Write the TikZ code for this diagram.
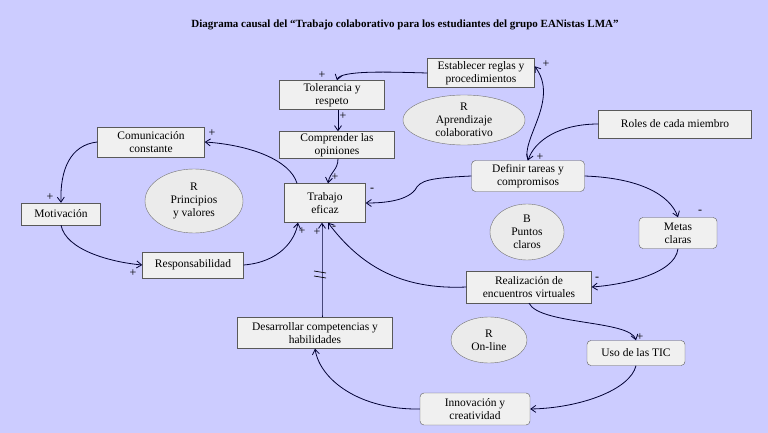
\documentclass[tikz,border=0pt]{standalone}
\usepackage{fontspec}
\setmainfont{Liberation Serif}
\usetikzlibrary{arrows.meta,shapes.geometric}
\begin{document}
\begin{tikzpicture}[x=1pt,y=-1pt,
 bx/.style={draw=black!65,fill=black!6,font=\fontsize{11.5}{13}\selectfont,align=center,inner sep=0pt,minimum height=29pt},
 rbx/.style={bx,rounded corners=4pt},
 el/.style={draw=black!55,fill=black!8,ellipse,font=\fontsize{11.5}{13}\selectfont,align=center,inner sep=0pt},
 ar/.style={draw=black!80!blue,line width=0.8pt,-{Straight Barb[length=5pt,width=7pt]}},
 sg/.style={font=\fontsize{12}{12}\selectfont,inner sep=0pt}]
\useasboundingbox[fill={rgb,255:red,204;green,204;blue,255}] (0,0) rectangle (768,433);
\node[font=\bfseries\fontsize{11}{13}\selectfont] (title) at (405,25) {Diagrama causal del “Trabajo colaborativo para los estudiantes del grupo EANistas LMA”};
\node[bx,minimum width=107pt] (est) at (481,73) {Establecer reglas y\\procedimientos};
\node[bx,minimum width=105pt] (tol) at (332,95) {Tolerancia y\\respeto};
\node[bx,minimum width=115pt,minimum height=27pt] (com) at (337,145) {Comprender las\\opiniones};
\node[bx,minimum width=107pt,minimum height=30pt] (cc) at (151,142) {Comunicación\\constante};
\node[bx,minimum width=79pt,minimum height=22pt] (mot) at (61,214) {Motivación};
\node[bx,minimum width=101pt,minimum height=26pt] (res) at (193,265) {Responsabilidad};
\node[bx,minimum width=81pt,minimum height=39pt] (tra) at (325,203) {Trabajo\\eficaz};
\node[bx,minimum width=153pt,minimum height=28pt] (rol) at (675,124) {Roles de cada miembro};
\node[rbx,minimum width=113pt,minimum height=31pt] (def) at (528,176) {Definir tareas y\\compromisos};
\node[rbx,minimum width=78pt,minimum height=31pt] (met) at (678,233) {Metas\\claras};
\node[bx,minimum width=125pt,minimum height=32pt] (rea) at (529,287) {Realización de\\encuentros virtuales};
\node[rbx,minimum width=98pt,minimum height=25pt] (uso) at (636,353) {Uso de las TIC};
\node[rbx,minimum width=110pt,minimum height=32pt] (inn) at (475,409) {Innovación y\\creatividad};
\node[bx,minimum width=155pt,minimum height=31pt] (des) at (315,333) {Desarrollar competencias y\\habilidades};
\node[el,minimum width=98pt,minimum height=64pt] (e1) at (194,201) {R\\Principios\\y valores};
\node[el,minimum width=122pt,minimum height=50pt] (e2) at (464,120) {R\\Aprendizaje\\colaborativo};
\node[el,minimum width=74pt,minimum height=56pt] (e3) at (527,232) {B\\Puntos\\claros};
\node[el,minimum width=76pt,minimum height=46pt] (e4) at (489,340) {R\\On-line};
% arrows
\draw[ar] (est.west) .. controls (390,72) and (340,70) .. ([xshift=5pt]tol.north);
\draw[ar] ([xshift=6pt]tol.south) -- ([xshift=1pt]com.north);
\draw[ar] ([xshift=1pt]com.south) .. controls (338,170) and (330,172) .. ([xshift=3pt]tra.north);
\draw[ar] ([xshift=-28pt]tra.north) .. controls (290,160) and (250,145) .. (cc.east);
\draw[ar] (cc.west) .. controls (70,145) and (60,170) .. (mot.north);
\draw[ar] (mot.south) .. controls (66,250) and (110,262) .. (res.west);
\draw[ar] (res.east) .. controls (280,262) and (295,240) .. ([xshift=-27pt]tra.south);
\draw[ar] (def.west) .. controls (430,178) and (420,180) .. (415,190) .. controls (405,202) and (380,203) .. (tra.east);
\draw[ar] (def.north) .. controls (520,140) and (560,100) .. ([yshift=-8pt]est.north east);
\draw[ar] (rol.west) .. controls (560,124) and (535,140) .. (def.north);
\draw[ar] (def.east) .. controls (640,178) and (670,195) .. (met.north);
\draw[ar] (met.south) .. controls (675,275) and (620,285) .. (rea.east);
\draw[ar] (rea.west) .. controls (400,290) and (360,265) .. ([xshift=3pt]tra.south);
\draw[ar] (rea.south) .. controls (540,325) and (630,320) .. (uso.north);
\draw[ar] (uso.south) .. controls (630,390) and (580,408) .. (inn.east);
\draw[ar] (inn.west) .. controls (360,410) and (320,380) .. (des.south);
\draw[ar] ([xshift=7pt]des.north) .. controls (322,280) and (322,250) .. ([xshift=-3pt]tra.south);
\coordinate (h1) at (320,272); \coordinate (h2) at (320,277);
\draw[line width=0.7pt] ([xshift=-6pt,yshift=1pt]h1) -- ([xshift=6pt,yshift=-1pt]h1);
\draw[line width=0.7pt] ([xshift=-6pt,yshift=1pt]h2) -- ([xshift=6pt,yshift=-1pt]h2);
% signs
\node[sg] at (322,75) {+};
\node[sg] at (343,116) {+};
\node[sg] at (335,177) {+};
\node[sg] at (212,133) {+};
\node[sg] at (50,197) {+};
\node[sg] at (133,273) {+};
\node[sg] at (302,231) {+};
\node[sg] at (317,232) {+};
\node[sg] at (334,228) {-};
\node[sg] at (372,190) {-};
\node[sg] at (546,64) {+};
\node[sg] at (540,157) {+};
\node[sg] at (700,212) {-};
\node[sg] at (597,279) {-};
\node[sg] at (640,337) {+};
\end{tikzpicture}
\end{document}
